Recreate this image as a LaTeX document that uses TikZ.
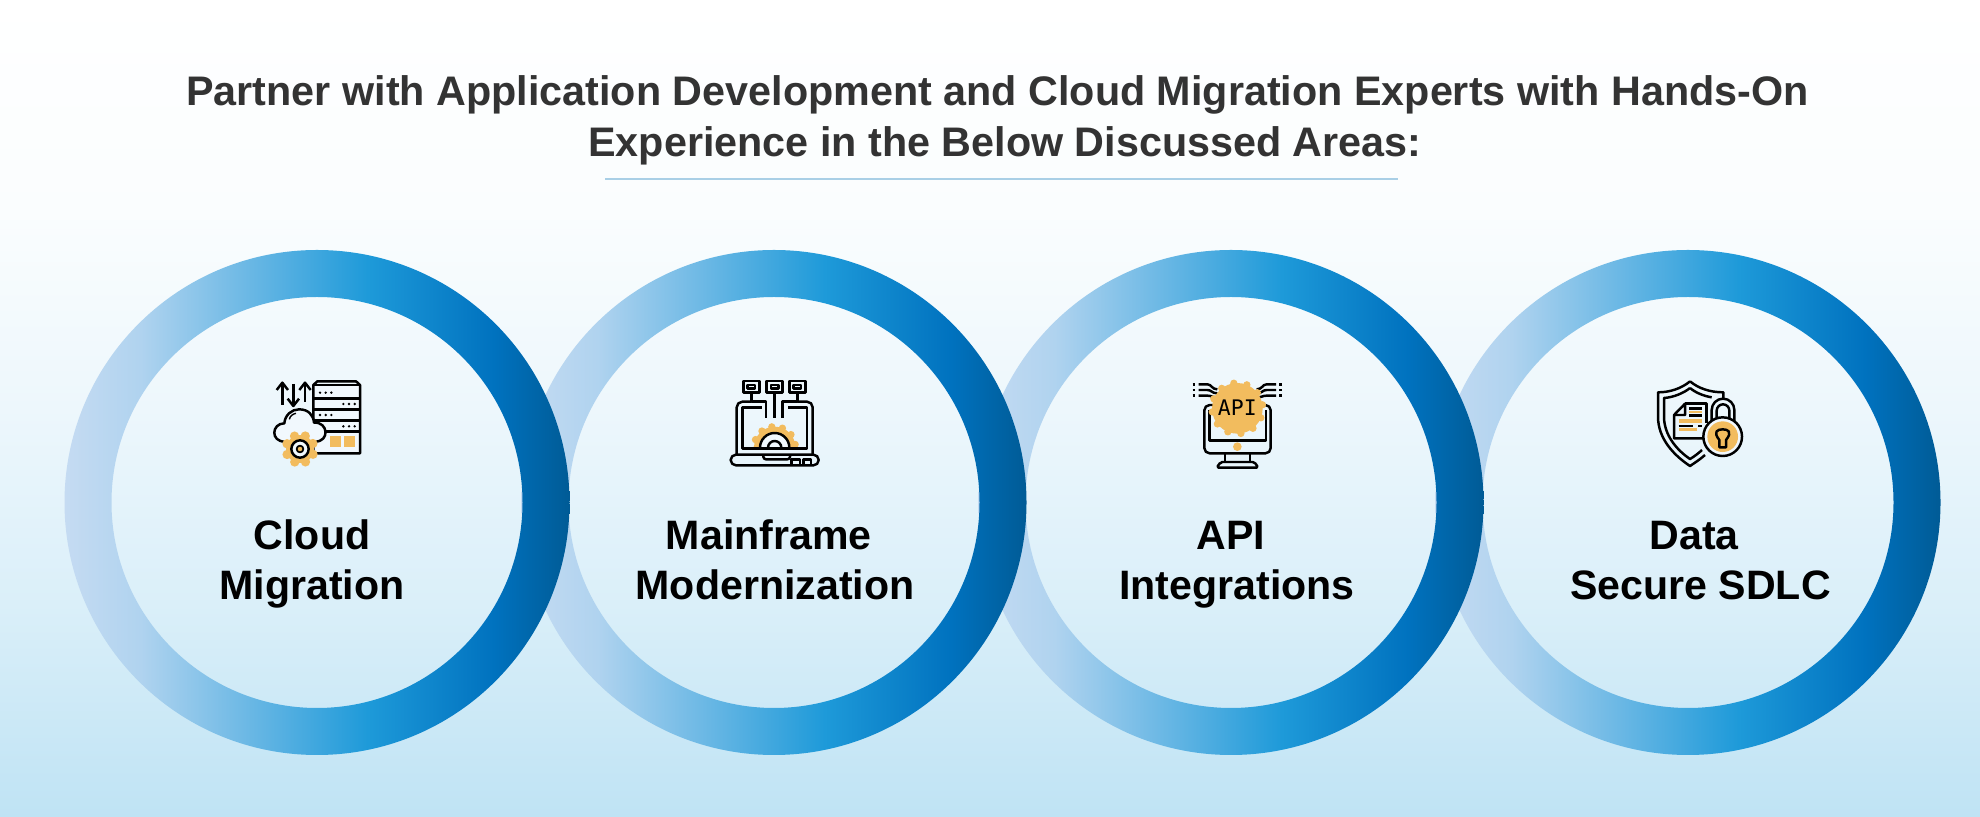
\documentclass[tikz,border=0pt]{standalone}
\usepackage{fontspec}
\setmainfont{Liberation Sans}
\newfontfamily\apifont{DejaVu Sans Mono}
\usetikzlibrary{calc}

\definecolor{titlegray}{HTML}{333333}
\definecolor{gearyellow}{HTML}{F2BC5E}
\definecolor{iconbg}{HTML}{F1F8FD}
\definecolor{rulecolor}{HTML}{A9CFE6}
\definecolor{pagea}{HTML}{BFE3F4}
\definecolor{pageb}{HTML}{DAEFF9}
\definecolor{pagec}{HTML}{EDF7FC}
\definecolor{paged}{HTML}{FAFDFE}
\definecolor{ringa}{HTML}{C5DBF2}
\definecolor{ringm}{HTML}{B0D3EF}
\definecolor{ringb}{HTML}{1E9AD9}
\definecolor{ringc}{HTML}{0072BF}
\definecolor{ringd}{HTML}{005B96}

\pgfdeclareverticalshading{pageshade}{100bp}{color(0bp)=(pagea); color(25bp)=(pagea); color(38bp)=(pageb); color(50bp)=(pagec); color(62bp)=(paged); color(75bp)=(white); color(100bp)=(white)}
\pgfdeclarehorizontalshading{ringshade}{100bp}{color(0bp)=(ringa); color(25bp)=(ringa); color(32.5bp)=(ringm); color(55bp)=(ringb); color(67.5bp)=(ringc); color(75bp)=(ringd); color(100bp)=(ringd)}

\tikzset{
  iconbox/.style={x=0.00667cm,y=-0.00667cm,line width=1.4pt,line join=round,black},
  areatext/.style={align=center,anchor=base,text=black,font=\fontsize{23.4}{28.45}\selectfont\bfseries},
}
\newcommand{\gearblob}[4]{
  \fill[gearyellow] (#1) circle (#2);
  \foreach \a in {0,#4,...,359}{\fill[gearyellow] (#1) ++(\a+22:#2) circle (#3);}
}
\newcommand{\ringat}[1]{
  \path[shade,shading=ringshade,even odd rule] (#1,6.29) circle (5.05) (#1,6.29) circle (4.11);
}

\begin{document}
\begin{tikzpicture}
\useasboundingbox (0,0) rectangle (39.6,16.34);
\path[shade,shading=pageshade] (0,0) rectangle (39.6,16.34);

% draw title
\node[align=center,text=titlegray,font=\fontsize{23.5}{29.2}\selectfont\bfseries] (title) at (19.95,13.94)
  {Partner with Application Development and Cloud Migration Experts with Hands-On\\\hspace*{0.3cm}Experience in the Below Discussed Areas:};
\coordinate (ruleleft) at (12.1,12.76);
\coordinate (ruleright) at (27.96,12.76);
\draw[rulecolor,line width=0.6pt] (ruleleft) -- (ruleright);

% draw rings, right one first
\ringat{33.76}
\ringat{24.62}
\ringat{15.48}
\ringat{6.34}

% draw labels
\node[areatext] (cloudtext) at (6.24,4.35) {Cloud\\Migration};
\node[areatext] (mainframetext) at (15.5,4.35) {Mainframe\hspace*{0.25cm}\\Modernization};
\node[areatext] (apitext) at (24.74,4.35) {API\hspace*{0.25cm}\\Integrations};
\node[areatext] (datatext) at (34.01,4.35) {Data\hspace*{0.25cm}\\Secure SDLC};

% draw cloud icon
\begin{scope}[shift={(5cm,9.14cm)},iconbox]
\fill[iconbg] (190,75) rectangle (330,280);
\draw (190,280) -- (190,75) -- (202,64) -- (318,64) -- (330,75) -- (330,280) -- (190,280);
\foreach \y in {75,116,148,181,215}{\draw (190,\y) -- (330,\y);}
\foreach \x in {210,227,244}{\fill (\x,98) circle (4); \fill (\x,165) circle (4);}
\foreach \x in {280,297,314}{\fill (\x,132) circle (4); \fill (\x,199) circle (4);}
\fill[gearyellow] (240,229) rectangle (272,262);
\fill[gearyellow] (282,229) rectangle (315,262);
\draw[fill=iconbg] (105,245) .. controls (60,245) and (65,190) .. (103,190) .. controls (105,165) and (125,148) .. (147,148) .. controls (175,148) and (190,165) .. (192,188) .. controls (235,185) and (240,245) .. (195,245) -- cycle;
\draw[line width=0.8pt] (118,178) .. controls (120,168) and (128,162) .. (138,160);
\gearblob{150,267}{42}{14}{45}
\draw[fill=iconbg] (150,267) circle (26);
\draw[line width=1pt,fill=gearyellow] (150,267) circle (10);
\draw (97,135) -- (97,68);
\draw (80,90) -- (97,68) -- (114,90);
\draw (130,72) -- (130,138);
\draw (113,116) -- (130,138) -- (147,116);
\draw (165,125) -- (165,68);
\draw (148,90) -- (165,68) -- (182,90);
\end{scope}

% draw laptop icon
\begin{scope}[shift={(14.2cm,9.14cm)},iconbox]
\begin{scope}
\clip (100,100) rectangle (290,263);
\gearblob{194,262}{62}{11}{30}
\end{scope}
\fill[iconbg] (150,263) arc (180:360:44) -- cycle;
\draw (150,263) arc (180:360:44);
\draw (174,263) arc (180:360:20);
\foreach \x in {100,170,238}{\draw (\x,63) rectangle ++(48,35); \draw (\x+13,75) rectangle ++(22,10);}
\draw (124,98) -- (124,125) -- (168,125) -- (168,175);
\draw (194,98) -- (194,175);
\draw (262,98) -- (262,125) -- (218,125) -- (218,175);
\draw (124,125) -- (97,125) arc (270:180:17) -- (80,282);
\draw (262,125) -- (291,125) arc (270:360:17) -- (308,282);
\draw (155,142) -- (97,142) -- (97,265) -- (291,265) -- (291,142) -- (235,142);
\draw[rounded corners=3pt] (62,284) -- (326,284) -- (326,316) -- (62,316) -- cycle;
\draw[rounded corners=1.5pt] (160,284) -- (160,298) -- (240,298) -- (240,284);
\draw (245,316) -- (245,298) -- (270,298) -- (270,316);
\draw (280,316) -- (280,298) -- (303,298) -- (303,316);
\end{scope}

% draw api icon
\begin{scope}[shift={(23.4cm,9.14cm)},iconbox]
\foreach \y/\b in {73/88,90/100,107/112}{
  \draw (68,\y) -- (76,\y);
  \draw (86,\y) -- (112,\y) .. controls (125,\y) and (125,\b) .. (142,\b);
  \draw (336,\y) -- (328,\y);
  \draw (318,\y) -- (290,\y) .. controls (277,\y) and (277,\b) .. (260,\b);
}
\draw[rounded corners=3pt] (103,135) rectangle (302,280);
\draw (118,150) -- (118,242) -- (288,242) -- (288,150);
\fill[gearyellow] (202,260) circle (13);
\draw (165,280) -- (165,306);
\draw (240,280) -- (240,306);
\draw[rounded corners=1pt] (152,306) -- (253,306) -- (265,323) -- (140,323) -- cycle;
\gearblob{202,145}{76}{11}{30}
\node[text=black,font=\apifont\fontsize{12.2}{12.2}\selectfont] (apiglyph) at (202,143) {API};
\end{scope}

% draw data icon
\begin{scope}[shift={(32.6cm,9.14cm)},iconbox]
\draw (180,64) .. controls (155,85) and (120,97) .. (84,97) -- (84,170) .. controls (84,235) and (130,285) .. (180,318) .. controls (195,308) and (210,298) .. (225,285);
\draw (180,64) .. controls (205,85) and (240,97) .. (280,97) -- (280,120);
\draw (180,84) .. controls (160,100) and (130,112) .. (102,114) -- (102,170) .. controls (102,225) and (140,270) .. (180,297) .. controls (192,290) and (205,280) .. (216,270);
\draw (180,84) .. controls (195,97) and (220,108) .. (245,112);
\fill[gearyellow] (146,176) rectangle (216,190);
\fill[gearyellow] (146,204) rectangle (200,214);
\fill[gearyellow] (178,154) rectangle (216,160);
\draw (165,131) -- (230,131) -- (230,190);
\draw (230,235) -- (132,235) -- (132,165) -- (165,131) -- (165,165) -- (132,165);
\draw (178,146) -- (215,146);
\draw (178,166) -- (215,166);
\draw (146,198) -- (190,198);
\draw (205,198) -- (216,198);
\draw (245,190) -- (245,150) arc (180:360:34) -- (313,190);
\draw (260,175) -- (260,152) arc (180:360:19) -- (298,175);
\draw[fill=iconbg] (278,230) circle (58);
\fill[gearyellow] (278,230) circle (46);
\draw (268,240) .. controls (248,215) and (262,208) .. (278,208) .. controls (294,208) and (308,215) .. (288,240) -- (288,262) -- (268,262) -- cycle;
\end{scope}

\end{tikzpicture}
\end{document}
